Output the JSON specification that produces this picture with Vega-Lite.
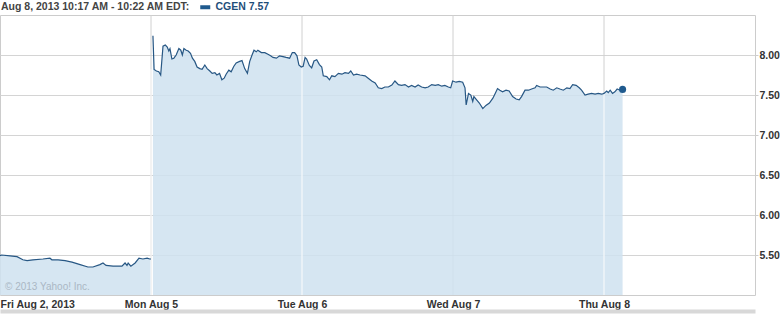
{
  "$schema": "https://vega.github.io/schema/vega-lite/v6.json",
  "width": 755,
  "height": 280,
  "autosize": {"type": "none"},
  "padding": {"left": 0, "top": 15, "right": 27, "bottom": 19},
  "background": "white",
  "config": {"view": {"stroke": "#cccccc"}, "font": "Liberation Sans"},
  "datasets": {
    "prices": [
      {"seg": "fri", "min": 0, "p": 5.49}, {"seg": "fri", "min": 4, "p": 5.5}, {"seg": "fri", "min": 26, "p": 5.49}, {"seg": "fri", "min": 44, "p": 5.48},
      {"seg": "fri", "min": 59, "p": 5.44}, {"seg": "fri", "min": 70, "p": 5.43}, {"seg": "fri", "min": 85, "p": 5.44}, {"seg": "fri", "min": 111, "p": 5.45},
      {"seg": "fri", "min": 129, "p": 5.46}, {"seg": "fri", "min": 134, "p": 5.44}, {"seg": "fri", "min": 150, "p": 5.44}, {"seg": "fri", "min": 168, "p": 5.43},
      {"seg": "fri", "min": 186, "p": 5.41}, {"seg": "fri", "min": 207, "p": 5.38}, {"seg": "fri", "min": 227, "p": 5.35}, {"seg": "fri", "min": 240, "p": 5.35},
      {"seg": "fri", "min": 258, "p": 5.38}, {"seg": "fri", "min": 266, "p": 5.4}, {"seg": "fri", "min": 274, "p": 5.37}, {"seg": "fri", "min": 292, "p": 5.36},
      {"seg": "fri", "min": 315, "p": 5.36}, {"seg": "fri", "min": 323, "p": 5.4}, {"seg": "fri", "min": 328, "p": 5.37}, {"seg": "fri", "min": 331, "p": 5.4},
      {"seg": "fri", "min": 338, "p": 5.36}, {"seg": "fri", "min": 349, "p": 5.4}, {"seg": "fri", "min": 359, "p": 5.46}, {"seg": "fri", "min": 369, "p": 5.45},
      {"seg": "fri", "min": 380, "p": 5.46}, {"seg": "fri", "min": 387, "p": 5.45}, {"seg": "fri", "min": 390, "p": 5.45},
      {"seg": "main", "min": 395, "p": 8.24}, {"seg": "main", "min": 398, "p": 7.82}, {"seg": "main", "min": 404, "p": 7.8}, {"seg": "main", "min": 410, "p": 7.79},
      {"seg": "main", "min": 415, "p": 7.75}, {"seg": "main", "min": 421, "p": 8.11}, {"seg": "main", "min": 427, "p": 8.125}, {"seg": "main", "min": 432, "p": 8.1},
      {"seg": "main", "min": 436, "p": 8.05}, {"seg": "main", "min": 439, "p": 8.08}, {"seg": "main", "min": 444, "p": 7.95}, {"seg": "main", "min": 449, "p": 7.96},
      {"seg": "main", "min": 455, "p": 8.0}, {"seg": "main", "min": 462, "p": 8.08}, {"seg": "main", "min": 467, "p": 8.06}, {"seg": "main", "min": 471, "p": 8.0},
      {"seg": "main", "min": 475, "p": 8.08}, {"seg": "main", "min": 481, "p": 8.06}, {"seg": "main", "min": 486, "p": 8.05}, {"seg": "main", "min": 492, "p": 8.02},
      {"seg": "main", "min": 497, "p": 7.96}, {"seg": "main", "min": 503, "p": 7.92}, {"seg": "main", "min": 509, "p": 7.85}, {"seg": "main", "min": 516, "p": 7.83},
      {"seg": "main", "min": 522, "p": 7.82}, {"seg": "main", "min": 529, "p": 7.875}, {"seg": "main", "min": 535, "p": 7.83}, {"seg": "main", "min": 542, "p": 7.8},
      {"seg": "main", "min": 548, "p": 7.77}, {"seg": "main", "min": 555, "p": 7.78}, {"seg": "main", "min": 560, "p": 7.75}, {"seg": "main", "min": 567, "p": 7.77},
      {"seg": "main", "min": 573, "p": 7.69}, {"seg": "main", "min": 579, "p": 7.71}, {"seg": "main", "min": 584, "p": 7.76}, {"seg": "main", "min": 591, "p": 7.81},
      {"seg": "main", "min": 597, "p": 7.79}, {"seg": "main", "min": 604, "p": 7.86}, {"seg": "main", "min": 610, "p": 7.9}, {"seg": "main", "min": 619, "p": 7.92},
      {"seg": "main", "min": 625, "p": 7.93}, {"seg": "main", "min": 632, "p": 7.83}, {"seg": "main", "min": 639, "p": 7.77}, {"seg": "main", "min": 645, "p": 7.92},
      {"seg": "main", "min": 651, "p": 8.0}, {"seg": "main", "min": 656, "p": 8.06}, {"seg": "main", "min": 662, "p": 8.04}, {"seg": "main", "min": 666, "p": 8.06},
      {"seg": "main", "min": 675, "p": 8.03}, {"seg": "main", "min": 684, "p": 8.03}, {"seg": "main", "min": 692, "p": 8.01}, {"seg": "main", "min": 699, "p": 7.99},
      {"seg": "main", "min": 705, "p": 7.97}, {"seg": "main", "min": 714, "p": 7.96}, {"seg": "main", "min": 722, "p": 7.99}, {"seg": "main", "min": 731, "p": 7.98},
      {"seg": "main", "min": 739, "p": 7.97}, {"seg": "main", "min": 748, "p": 7.96}, {"seg": "main", "min": 755, "p": 8.03}, {"seg": "main", "min": 761, "p": 8.03},
      {"seg": "main", "min": 767, "p": 7.99}, {"seg": "main", "min": 772, "p": 7.875}, {"seg": "main", "min": 778, "p": 7.85}, {"seg": "main", "min": 783, "p": 7.86},
      {"seg": "main", "min": 788, "p": 7.97}, {"seg": "main", "min": 792, "p": 7.95}, {"seg": "main", "min": 799, "p": 7.87}, {"seg": "main", "min": 805, "p": 7.84},
      {"seg": "main", "min": 811, "p": 7.925}, {"seg": "main", "min": 818, "p": 7.94}, {"seg": "main", "min": 825, "p": 7.88}, {"seg": "main", "min": 831, "p": 7.85},
      {"seg": "main", "min": 835, "p": 7.74}, {"seg": "main", "min": 844, "p": 7.73}, {"seg": "main", "min": 851, "p": 7.69}, {"seg": "main", "min": 857, "p": 7.74},
      {"seg": "main", "min": 865, "p": 7.73}, {"seg": "main", "min": 874, "p": 7.77}, {"seg": "main", "min": 883, "p": 7.76}, {"seg": "main", "min": 891, "p": 7.78},
      {"seg": "main", "min": 900, "p": 7.77}, {"seg": "main", "min": 906, "p": 7.8}, {"seg": "main", "min": 913, "p": 7.75}, {"seg": "main", "min": 921, "p": 7.76},
      {"seg": "main", "min": 930, "p": 7.75}, {"seg": "main", "min": 943, "p": 7.74}, {"seg": "main", "min": 951, "p": 7.71}, {"seg": "main", "min": 960, "p": 7.675},
      {"seg": "main", "min": 969, "p": 7.65}, {"seg": "main", "min": 977, "p": 7.59}, {"seg": "main", "min": 986, "p": 7.58}, {"seg": "main", "min": 994, "p": 7.6},
      {"seg": "main", "min": 1003, "p": 7.6}, {"seg": "main", "min": 1012, "p": 7.625}, {"seg": "main", "min": 1020, "p": 7.675}, {"seg": "main", "min": 1029, "p": 7.63},
      {"seg": "main", "min": 1037, "p": 7.62}, {"seg": "main", "min": 1046, "p": 7.63}, {"seg": "main", "min": 1055, "p": 7.6}, {"seg": "main", "min": 1063, "p": 7.62},
      {"seg": "main", "min": 1072, "p": 7.6}, {"seg": "main", "min": 1080, "p": 7.625}, {"seg": "main", "min": 1089, "p": 7.6}, {"seg": "main", "min": 1098, "p": 7.59},
      {"seg": "main", "min": 1106, "p": 7.6}, {"seg": "main", "min": 1115, "p": 7.63}, {"seg": "main", "min": 1124, "p": 7.62}, {"seg": "main", "min": 1132, "p": 7.63},
      {"seg": "main", "min": 1141, "p": 7.61}, {"seg": "main", "min": 1149, "p": 7.62}, {"seg": "main", "min": 1158, "p": 7.6}, {"seg": "main", "min": 1164, "p": 7.59},
      {"seg": "main", "min": 1169, "p": 7.675}, {"seg": "main", "min": 1178, "p": 7.66}, {"seg": "main", "min": 1186, "p": 7.67}, {"seg": "main", "min": 1195, "p": 7.66},
      {"seg": "main", "min": 1201, "p": 7.59}, {"seg": "main", "min": 1204, "p": 7.375}, {"seg": "main", "min": 1210, "p": 7.52}, {"seg": "main", "min": 1216, "p": 7.5},
      {"seg": "main", "min": 1221, "p": 7.42}, {"seg": "main", "min": 1224, "p": 7.48}, {"seg": "main", "min": 1231, "p": 7.44}, {"seg": "main", "min": 1238, "p": 7.4},
      {"seg": "main", "min": 1247, "p": 7.33}, {"seg": "main", "min": 1255, "p": 7.37}, {"seg": "main", "min": 1264, "p": 7.4}, {"seg": "main", "min": 1273, "p": 7.46},
      {"seg": "main", "min": 1279, "p": 7.52}, {"seg": "main", "min": 1285, "p": 7.58}, {"seg": "main", "min": 1291, "p": 7.56}, {"seg": "main", "min": 1298, "p": 7.54},
      {"seg": "main", "min": 1307, "p": 7.56}, {"seg": "main", "min": 1315, "p": 7.55}, {"seg": "main", "min": 1324, "p": 7.48}, {"seg": "main", "min": 1333, "p": 7.45},
      {"seg": "main", "min": 1341, "p": 7.44}, {"seg": "main", "min": 1347, "p": 7.48}, {"seg": "main", "min": 1356, "p": 7.56}, {"seg": "main", "min": 1365, "p": 7.56},
      {"seg": "main", "min": 1373, "p": 7.575}, {"seg": "main", "min": 1382, "p": 7.59}, {"seg": "main", "min": 1386, "p": 7.62}, {"seg": "main", "min": 1395, "p": 7.6},
      {"seg": "main", "min": 1403, "p": 7.6}, {"seg": "main", "min": 1412, "p": 7.6}, {"seg": "main", "min": 1421, "p": 7.575}, {"seg": "main", "min": 1429, "p": 7.56},
      {"seg": "main", "min": 1438, "p": 7.59}, {"seg": "main", "min": 1446, "p": 7.575}, {"seg": "main", "min": 1455, "p": 7.56}, {"seg": "main", "min": 1464, "p": 7.59},
      {"seg": "main", "min": 1472, "p": 7.58}, {"seg": "main", "min": 1479, "p": 7.63}, {"seg": "main", "min": 1488, "p": 7.62}, {"seg": "main", "min": 1496, "p": 7.59},
      {"seg": "main", "min": 1502, "p": 7.56}, {"seg": "main", "min": 1511, "p": 7.5}, {"seg": "main", "min": 1519, "p": 7.51}, {"seg": "main", "min": 1528, "p": 7.52},
      {"seg": "main", "min": 1537, "p": 7.51}, {"seg": "main", "min": 1545, "p": 7.52}, {"seg": "main", "min": 1554, "p": 7.51}, {"seg": "main", "min": 1560, "p": 7.52},
      {"seg": "main", "min": 1567, "p": 7.55}, {"seg": "main", "min": 1571, "p": 7.53}, {"seg": "main", "min": 1576, "p": 7.56}, {"seg": "main", "min": 1582, "p": 7.52},
      {"seg": "main", "min": 1588, "p": 7.54}, {"seg": "main", "min": 1594, "p": 7.575}, {"seg": "main", "min": 1601, "p": 7.56}, {"seg": "main", "min": 1608, "p": 7.57}
    ],
    "breaks": [
      {"min": 390, "top": 7.82, "white": true},
      {"min": 780, "top": 7.86, "white": true},
      {"min": 1170, "top": 7.67, "white": false},
      {"min": 1560, "top": 7.52, "white": true}
    ],
    "last": [{"min": 1608, "p": 7.57, "name": "CGEN 7.57"}],
    "notes": [{"min": 13, "p": 5.1, "text": "© 2013 Yahoo! Inc."}]
  },
  "encoding": {
    "x": {
      "field": "min", "type": "quantitative",
      "scale": {"domain": [0, 1950], "nice": false, "zero": false},
      "axis": {
        "title": null, "values": [0, 390, 780, 1170, 1560],
        "labelExpr": "datum.value == 0 ? 'Fri Aug 2, 2013' : datum.value == 390 ? 'Mon Aug 5' : datum.value == 780 ? 'Tue Aug 6' : datum.value == 1170 ? 'Wed Aug 7' : 'Thu Aug 8'",
        "labelAlign": {"condition": {"test": "datum.value == 0", "value": "left"}, "value": "center"},
        "grid": false, "ticks": false, "tickSize": 0,
        "domain": true, "domainColor": "#d8d8d8", "domainWidth": 4, "offset": 16,
        "labelPadding": -12, "labelBaseline": "top", "labelFontSize": 10.5, "labelFontWeight": "bold",
        "labelColor": "#333333", "labelFlush": false, "labelOverlap": false
      }
    }
  },
  "layer": [
    {
      "data": {"name": "breaks"},
      "mark": {"type": "rule", "color": "#d0d0d0", "strokeWidth": 1},
      "encoding": {}
    },
    {
      "data": {"name": "prices"},
      "mark": {"type": "area", "color": "#cfe2f0", "opacity": 0.85, "interpolate": "linear"},
      "encoding": {
        "y": {"field": "p", "type": "quantitative", "scale": {"domain": [5, 8.5], "nice": false, "zero": false},
          "axis": {"title": null, "orient": "right", "values": [5.5, 6, 6.5, 7, 7.5, 8], "format": ".2f", "grid": true, "gridColor": "#d4d4d4",
            "domain": false, "ticks": true, "tickSize": 3, "tickColor": "#cccccc", "labelPadding": 1, "labelFontSize": 10.5,
            "labelFontWeight": "bold", "labelColor": "#333333"}},
        "y2": {"datum": 5},
        "detail": {"field": "seg"}
      }
    },
    {
      "data": {"name": "breaks"},
      "transform": [{"filter": "datum.white"}],
      "mark": {"type": "rule", "color": "#ffffff", "strokeWidth": 1},
      "encoding": {
        "y": {"field": "top", "type": "quantitative"},
        "y2": {"datum": 5}
      }
    },
    {
      "data": {"name": "prices"},
      "mark": {"type": "line", "color": "#275784", "strokeWidth": 1.2},
      "encoding": {
        "y": {"field": "p", "type": "quantitative"},
        "detail": {"field": "seg"}
      }
    },
    {
      "data": {"name": "notes"},
      "mark": {"type": "text", "align": "left", "baseline": "middle", "fontSize": 10, "color": "#aab7c4"},
      "encoding": {
        "y": {"field": "p", "type": "quantitative"},
        "text": {"field": "text"}
      }
    },
    {
      "data": {"name": "last"},
      "mark": {"type": "point", "filled": true, "size": 50, "opacity": 1},
      "encoding": {
        "y": {"field": "p", "type": "quantitative"},
        "color": {"field": "name", "type": "nominal", "scale": {"range": ["#1f5a8e"]},
          "legend": {"title": "Aug 8, 2013 10:17 AM - 10:22 AM EDT:", "titleOrient": "left", "titleFontSize": 10.5, "titleFontWeight": "bold",
            "titleColor": "#444444", "titleFont": "Liberation Sans", "titlePadding": 9, "titleBaseline": "middle", "titleAnchor": "middle",
            "titleLimit": 400, "labelLimit": 200,
            "orient": "none", "legendX": 1, "legendY": -13, "symbolType": "M-1,-0.4H1V0.4H-1Z",
            "symbolSize": 100, "symbolStrokeWidth": 0, "labelFontSize": 10.5, "labelFontWeight": "bold", "labelColor": "#1f4e7a",
            "labelOffset": 5, "padding": 0}}
      }
    }
  ]
}
